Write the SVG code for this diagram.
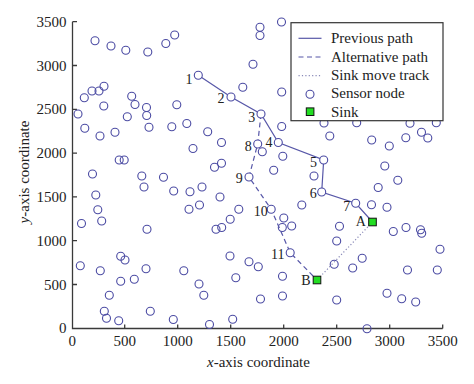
<svg xmlns="http://www.w3.org/2000/svg" width="474" height="384" viewBox="0 0 474 384">
<style>
.n{fill:none;stroke:#4b4ba3;stroke-width:1.1}
.pn{fill:#fff;stroke:#4b4ba3;stroke-width:1.1}
.ax{stroke:#3a3a3a;stroke-width:1.3;fill:none}
.t{font-family:"Liberation Serif",serif;font-size:15px;fill:#222}
.lb{font-family:"Liberation Serif",serif;font-size:14px;fill:#222;text-anchor:middle}
.prev{fill:none;stroke:#5757a8;stroke-width:1.2}
.alt{fill:none;stroke:#5757a8;stroke-width:1.2;stroke-dasharray:5 3.5}
.trk{fill:none;stroke:#8a8ab8;stroke-width:1.2;stroke-dasharray:1.2 2.2}
.sink{fill:#22dd22;stroke:#111;stroke-width:1}
</style>
<rect width="474" height="384" fill="#fff"/>
<g id="axes">
<path class="ax" d="M72.5,21.7V328.5H442.7"/>
<path class="ax" d="M72.5,21.7h4.5M72.5,65.5h4.5M72.5,109.3h4.5M72.5,153.1h4.5M72.5,196.9h4.5M72.5,240.7h4.5M72.5,284.5h4.5
M124.7,328.5v-4M177.7,328.5v-4M230.7,328.5v-4M283.7,328.5v-4M336.7,328.5v-4M389.7,328.5v-4M442.7,328.5v-4"/>
<g class="t" text-anchor="end">
<text x="66.5" y="26.7">3500</text><text x="66.5" y="70.5">3000</text><text x="66.5" y="114.3">2500</text><text x="66.5" y="158.1">2000</text><text x="66.5" y="201.9">1500</text><text x="66.5" y="245.7">1000</text><text x="66.5" y="289.5">500</text><text x="66.5" y="333.3">0</text>
</g>
<g class="t" text-anchor="middle">
<text x="72.2" y="345.5">0</text><text x="124.7" y="345.5">500</text><text x="177.7" y="345.5">1000</text><text x="230.7" y="345.5">1500</text><text x="283.7" y="345.5">2000</text><text x="336.7" y="345.5">2500</text><text x="389.7" y="345.5">3000</text><text x="442.7" y="345.5">3500</text>
</g>
<text class="t" x="258.5" y="367" text-anchor="middle"><tspan font-style="italic">x</tspan>-axis coordinate</text>
<text class="t" transform="translate(29,172) rotate(-90)" text-anchor="middle"><tspan font-style="italic">y</tspan>-axis coordinate</text>
</g>
<g id="sensors">
<circle class="n" cx="95" cy="40.7" r="4"/><circle class="n" cx="111" cy="46" r="4"/><circle class="n" cx="125.8" cy="50.3" r="4"/><circle class="n" cx="147.8" cy="52" r="4"/><circle class="n" cx="165.8" cy="43.5" r="4"/><circle class="n" cx="174.7" cy="35" r="4"/>
<circle class="n" cx="84.3" cy="97.8" r="4"/><circle class="n" cx="92" cy="91" r="4"/><circle class="n" cx="99" cy="91" r="4"/><circle class="n" cx="104" cy="86.2" r="4"/><circle class="n" cx="103.8" cy="106" r="4"/><circle class="n" cx="78" cy="114" r="4"/>
<circle class="n" cx="84.8" cy="128.2" r="4"/><circle class="n" cx="100" cy="136" r="4"/><circle class="n" cx="115" cy="132.3" r="4"/><circle class="n" cx="131.7" cy="96.3" r="4"/><circle class="n" cx="135" cy="104.5" r="4"/><circle class="n" cx="146.5" cy="107.5" r="4"/>
<circle class="n" cx="146.7" cy="115.5" r="4"/><circle class="n" cx="127.3" cy="116.7" r="4"/><circle class="n" cx="149" cy="127.3" r="4"/><circle class="n" cx="176.8" cy="104.7" r="4"/><circle class="n" cx="171.8" cy="126.7" r="4"/><circle class="n" cx="186.8" cy="123.5" r="4"/>
<circle class="n" cx="207.7" cy="131.7" r="4"/><circle class="n" cx="221.5" cy="142.5" r="4"/><circle class="n" cx="193" cy="148.5" r="4"/><circle class="n" cx="119.2" cy="160" r="4"/><circle class="n" cx="124.2" cy="160" r="4"/><circle class="n" cx="214.5" cy="167.3" r="4"/>
<circle class="n" cx="221.5" cy="163.3" r="4"/><circle class="n" cx="92.5" cy="174" r="4"/><circle class="n" cx="141.8" cy="176" r="4"/><circle class="n" cx="144" cy="187" r="4"/><circle class="n" cx="163.5" cy="177.2" r="4"/><circle class="n" cx="173.7" cy="191" r="4"/>
<circle class="n" cx="190" cy="191.8" r="4"/><circle class="n" cx="202" cy="187" r="4"/><circle class="n" cx="220" cy="197" r="4"/><circle class="n" cx="95.8" cy="195" r="4"/><circle class="n" cx="242.8" cy="87.3" r="4"/><circle class="n" cx="253" cy="64.3" r="4"/>
<circle class="n" cx="260" cy="27.3" r="4"/><circle class="n" cx="260" cy="35.5" r="4"/><circle class="n" cx="281.5" cy="22" r="4"/><circle class="n" cx="281.7" cy="92" r="4"/><circle class="n" cx="281.7" cy="126.5" r="4"/><circle class="n" cx="262.3" cy="151.8" r="4"/>
<circle class="n" cx="282.8" cy="156.2" r="4"/><circle class="n" cx="273.7" cy="170.3" r="4"/><circle class="n" cx="314" cy="176" r="4"/><circle class="n" cx="329.8" cy="136" r="4"/><circle class="n" cx="371.7" cy="140" r="4"/><circle class="n" cx="389.3" cy="146" r="4"/>
<circle class="n" cx="405.8" cy="137.8" r="4"/><circle class="n" cx="421.5" cy="132.2" r="4"/><circle class="n" cx="427.8" cy="138" r="4"/><circle class="n" cx="384.8" cy="166" r="4"/><circle class="n" cx="397.8" cy="180.3" r="4"/><circle class="n" cx="378.2" cy="187.5" r="4"/>
<circle class="n" cx="324" cy="123" r="4"/><circle class="n" cx="356.7" cy="122.7" r="4"/><circle class="n" cx="410" cy="123.3" r="4"/><circle class="n" cx="436.3" cy="122.7" r="4"/>
<circle class="n" cx="97.8" cy="209.7" r="4"/><circle class="n" cx="101.7" cy="221" r="4"/><circle class="n" cx="81.5" cy="223.5" r="4"/><circle class="n" cx="147" cy="229.2" r="4"/><circle class="n" cx="189" cy="209.2" r="4"/><circle class="n" cx="199.5" cy="205" r="4"/>
<circle class="n" cx="230.2" cy="219.2" r="4"/><circle class="n" cx="238.8" cy="209.3" r="4"/><circle class="n" cx="216" cy="229.3" r="4"/><circle class="n" cx="221.7" cy="227.5" r="4"/><circle class="n" cx="120.7" cy="256.2" r="4"/><circle class="n" cx="125" cy="260" r="4"/>
<circle class="n" cx="80.3" cy="265.8" r="4"/><circle class="n" cx="100.3" cy="270.7" r="4"/><circle class="n" cx="146" cy="268.8" r="4"/><circle class="n" cx="183.8" cy="270.7" r="4"/><circle class="n" cx="230" cy="256" r="4"/><circle class="n" cx="235.8" cy="277.8" r="4"/>
<circle class="n" cx="120.7" cy="281.2" r="4"/><circle class="n" cx="134.3" cy="279.2" r="4"/><circle class="n" cx="199" cy="284" r="4"/><circle class="n" cx="203.8" cy="295.3" r="4"/><circle class="n" cx="109.3" cy="295.2" r="4"/><circle class="n" cx="104.3" cy="311.3" r="4"/>
<circle class="n" cx="106.5" cy="318.3" r="4"/><circle class="n" cx="118.7" cy="320.7" r="4"/><circle class="n" cx="150.3" cy="311.3" r="4"/><circle class="n" cx="173.3" cy="319.5" r="4"/><circle class="n" cx="209.5" cy="324.5" r="4"/><circle class="n" cx="232.7" cy="319.3" r="4"/>
<circle class="n" cx="301.8" cy="205" r="4"/><circle class="n" cx="283.8" cy="218" r="4"/><circle class="n" cx="282.3" cy="227.5" r="4"/><circle class="n" cx="291.7" cy="226" r="4"/><circle class="n" cx="339.5" cy="226.3" r="4"/><circle class="n" cx="336.7" cy="241" r="4"/>
<circle class="n" cx="371.5" cy="204.8" r="4"/><circle class="n" cx="387" cy="207.3" r="4"/><circle class="n" cx="393.3" cy="231.5" r="4"/><circle class="n" cx="406" cy="227.5" r="4"/><circle class="n" cx="420.5" cy="229.7" r="4"/><circle class="n" cx="421.7" cy="233.3" r="4"/>
<circle class="n" cx="440" cy="249.2" r="4"/><circle class="n" cx="407.5" cy="270" r="4"/><circle class="n" cx="437.3" cy="270" r="4"/><circle class="n" cx="362.2" cy="258.3" r="4"/><circle class="n" cx="352.7" cy="268" r="4"/><circle class="n" cx="334.2" cy="264.3" r="4"/>
<circle class="n" cx="249" cy="261.7" r="4"/><circle class="n" cx="258.3" cy="266.7" r="4"/><circle class="n" cx="282.5" cy="276.3" r="4"/><circle class="n" cx="282.5" cy="296" r="4"/><circle class="n" cx="260.5" cy="299" r="4"/><circle class="n" cx="336.7" cy="300" r="4"/>
<circle class="n" cx="387" cy="293.3" r="4"/><circle class="n" cx="401.7" cy="298.7" r="4"/><circle class="n" cx="415.7" cy="302" r="4"/><circle class="n" cx="367" cy="328.8" r="4"/>
</g>
<g id="connectors">
<polyline class="prev" points="198.3,75.3 231,97 261,114 278.3,142.5 323.7,160 321.7,192 355.7,203.3 372.5,222"/>
<polyline class="alt" points="261,114 257.7,144 249,177 271.2,209.3 290.2,252.7 317,280"/>
<line class="trk" x1="372.5" y1="222" x2="317" y2="280"/>
</g>
<g id="node-1"><circle class="pn" cx="198.3" cy="75.3" r="4"/><text class="lb" x="189" y="84">1</text></g>
<g id="node-2"><circle class="pn" cx="231" cy="97" r="4"/><text class="lb" x="221" y="102.5">2</text></g>
<g id="node-3"><circle class="pn" cx="261" cy="114" r="4"/><text class="lb" x="251.8" y="122">3</text></g>
<g id="node-4"><circle class="pn" cx="278.3" cy="142.5" r="4"/><text class="lb" x="269" y="147.4">4</text></g>
<g id="node-5"><circle class="pn" cx="323.7" cy="160" r="4"/><text class="lb" x="313.5" y="167.2">5</text></g>
<g id="node-6"><circle class="pn" cx="321.7" cy="192" r="4"/><text class="lb" x="313.2" y="197.7">6</text></g>
<g id="node-7"><circle class="pn" cx="355.7" cy="203.3" r="4"/><text class="lb" x="346.7" y="211.4">7</text></g>
<g id="node-8"><circle class="pn" cx="257.7" cy="144" r="4"/><text class="lb" x="248.3" y="151.4">8</text></g>
<g id="node-9"><circle class="pn" cx="249" cy="177" r="4"/><text class="lb" x="239.3" y="183">9</text></g>
<g id="node-10"><circle class="pn" cx="271.2" cy="209.3" r="4"/><text class="lb" x="260.7" y="215.7">10</text></g>
<g id="node-11"><circle class="pn" cx="290.2" cy="252.7" r="4"/><text class="lb" x="277.7" y="258.7">11</text></g>
<g id="sink-A"><rect class="sink" x="368.7" y="218.2" width="7.6" height="7.6"/><text class="lb" x="360.7" y="226.4">A</text></g>
<g id="sink-B"><rect class="sink" x="313.2" y="276.2" width="7.6" height="7.6"/><text class="lb" x="306" y="284.7">B</text></g>
<g id="legend">
<rect x="291" y="22.7" width="152" height="98" fill="#fff" stroke="#333" stroke-width="1.2"/>
<line class="prev" x1="298.5" y1="38.3" x2="321.5" y2="38.3"/>
<line class="alt" x1="298.5" y1="57" x2="321.5" y2="57"/>
<line class="trk" x1="298.5" y1="75.7" x2="321.5" y2="75.7"/>
<circle class="n" cx="310" cy="94.3" r="4"/>
<rect class="sink" x="306.3" y="107.9" width="7.6" height="7.6"/>
<g class="t">
<text x="331" y="43.2">Previous path</text>
<text x="331" y="61.6">Alternative path</text>
<text x="331" y="80">Sink move track</text>
<text x="331" y="98.4">Sensor node</text>
<text x="331" y="116.8">Sink</text>
</g>
</g>
</svg>
